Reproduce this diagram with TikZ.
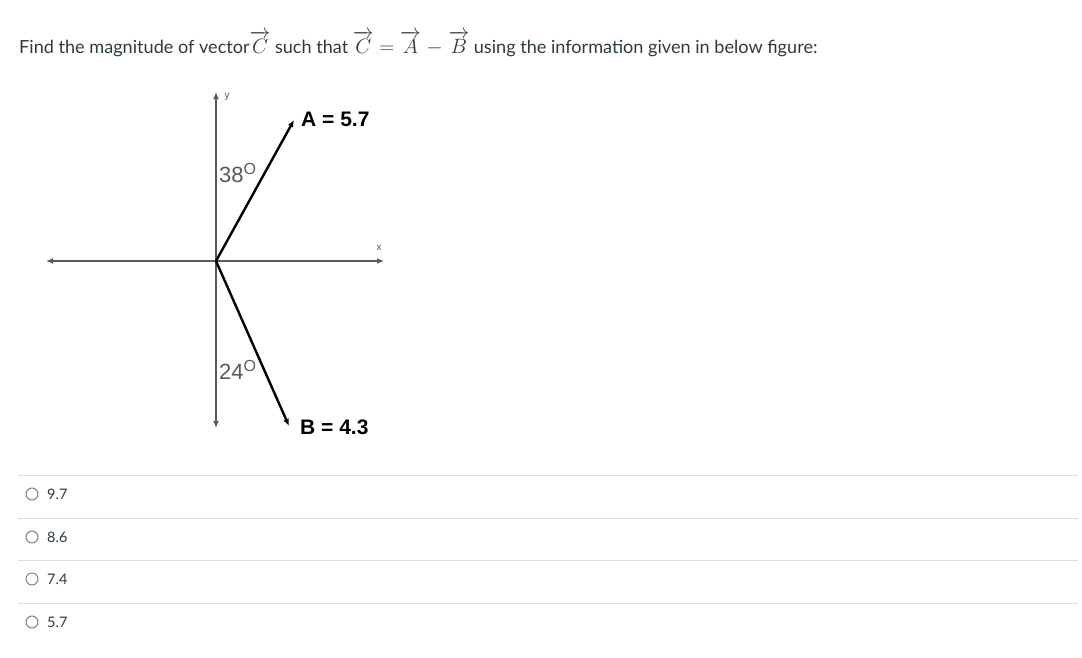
\documentclass[tikz,border=0pt]{standalone}
\usepackage{fontspec}
\usepackage{amsmath}
\setmainfont{Lato}
\newfontfamily\arialf{Liberation Sans}
\usetikzlibrary{arrows.meta}
\definecolor{qtext}{RGB}{45,59,69}
\definecolor{sepline}{RGB}{220,220,220}
\definecolor{axisgray}{RGB}{90,90,90}
\tikzset{
  axis/.style={draw=axisgray, line width=1.3pt, -{Latex[length=7pt,width=6pt]}},
  vec/.style={draw=black, line width=2.4pt, -{Latex[length=7pt,width=6pt]}},
  vlabel/.style={font=\arialf\fontsize{21}{23}\selectfont\bfseries, text=black, inner sep=0pt},
  axlabel/.style={font=\arialf\fontsize{10}{11}\selectfont, text=axisgray, inner sep=0pt},
  sep/.style={draw=sepline, line width=1pt},
  radio/.style={draw=gray, line width=1pt, circle, minimum size=12pt, inner sep=0pt},
  opt/.style={font=\fontsize{14.5}{16}\selectfont, text=qtext, anchor=west, inner sep=0pt},
  anglab/.style={anchor=base west, inner sep=0pt, text=axisgray, font=\arialf\fontsize{22}{24}\selectfont},
}
\newcommand{\degO}{\raisebox{8pt}{\fontsize{16}{16}\selectfont O}}
\newcommand{\mvec}[1]{{\fontsize{20}{21}\selectfont$\overrightarrow{#1}$}}
\newcommand{\mop}[1]{{\fontsize{20}{21}\selectfont$\;#1\;$}}
\begin{document}
\begin{tikzpicture}[x=1pt,y=-1pt]
\useasboundingbox[fill=white] (0,0) rectangle (1082,657);
% question
\node[anchor=base west, inner sep=0pt, text=qtext, font=\fontsize{18.1}{21}\selectfont] (q) at (19,53)
 {Find the magnitude of vector\mvec{C} such that \mvec{C}\mop{=}\mvec{A}\mop{-}\mvec{B} using the information given in below figure:};
% axes
\coordinate (O) at (216,261);
\coordinate (ytop) at (216,92);
\coordinate (ybot) at (216,428);
\coordinate (xl) at (46,261);
\coordinate (xr) at (384,261);
\draw[axis] (O) -- (ytop);
\draw[axis] (O) -- (ybot);
\draw[axis] (O) -- (xl);
\draw[axis] (O) -- (xr);
\node[axlabel] (ylab) at (227,97) {y};
\node[axlabel] (xlab) at (379,248) {x};
% vectors
\coordinate (Atip) at (294,120);
\coordinate (Btip) at (289,426);
\draw[vec] (O) -- (Atip);
\draw[vec] (O) -- (Btip);
\node[vlabel, anchor=west] (Alab) at (301,119) {A = 5.7};
\node[vlabel, anchor=west] (Blab) at (300,427) {B = 4.3};
\node[anglab] (a38) at (219,182) {38\degO};
\node[anglab] (a24) at (219,379) {24\degO};
% options
\foreach \y in {475,518,560,603} \draw[sep] (18,\y) -- (1078,\y);
\node[radio] (r1) at (32,494) {};
\node[radio] (r2) at (32,537) {};
\node[radio] (r3) at (32,579) {};
\node[radio] (r4) at (32,622) {};
\node[opt] (o1) at (47,494) {9.7};
\node[opt] (o2) at (47,537) {8.6};
\node[opt] (o3) at (47,579) {7.4};
\node[opt] (o4) at (47,622) {5.7};
\end{tikzpicture}
\end{document}
